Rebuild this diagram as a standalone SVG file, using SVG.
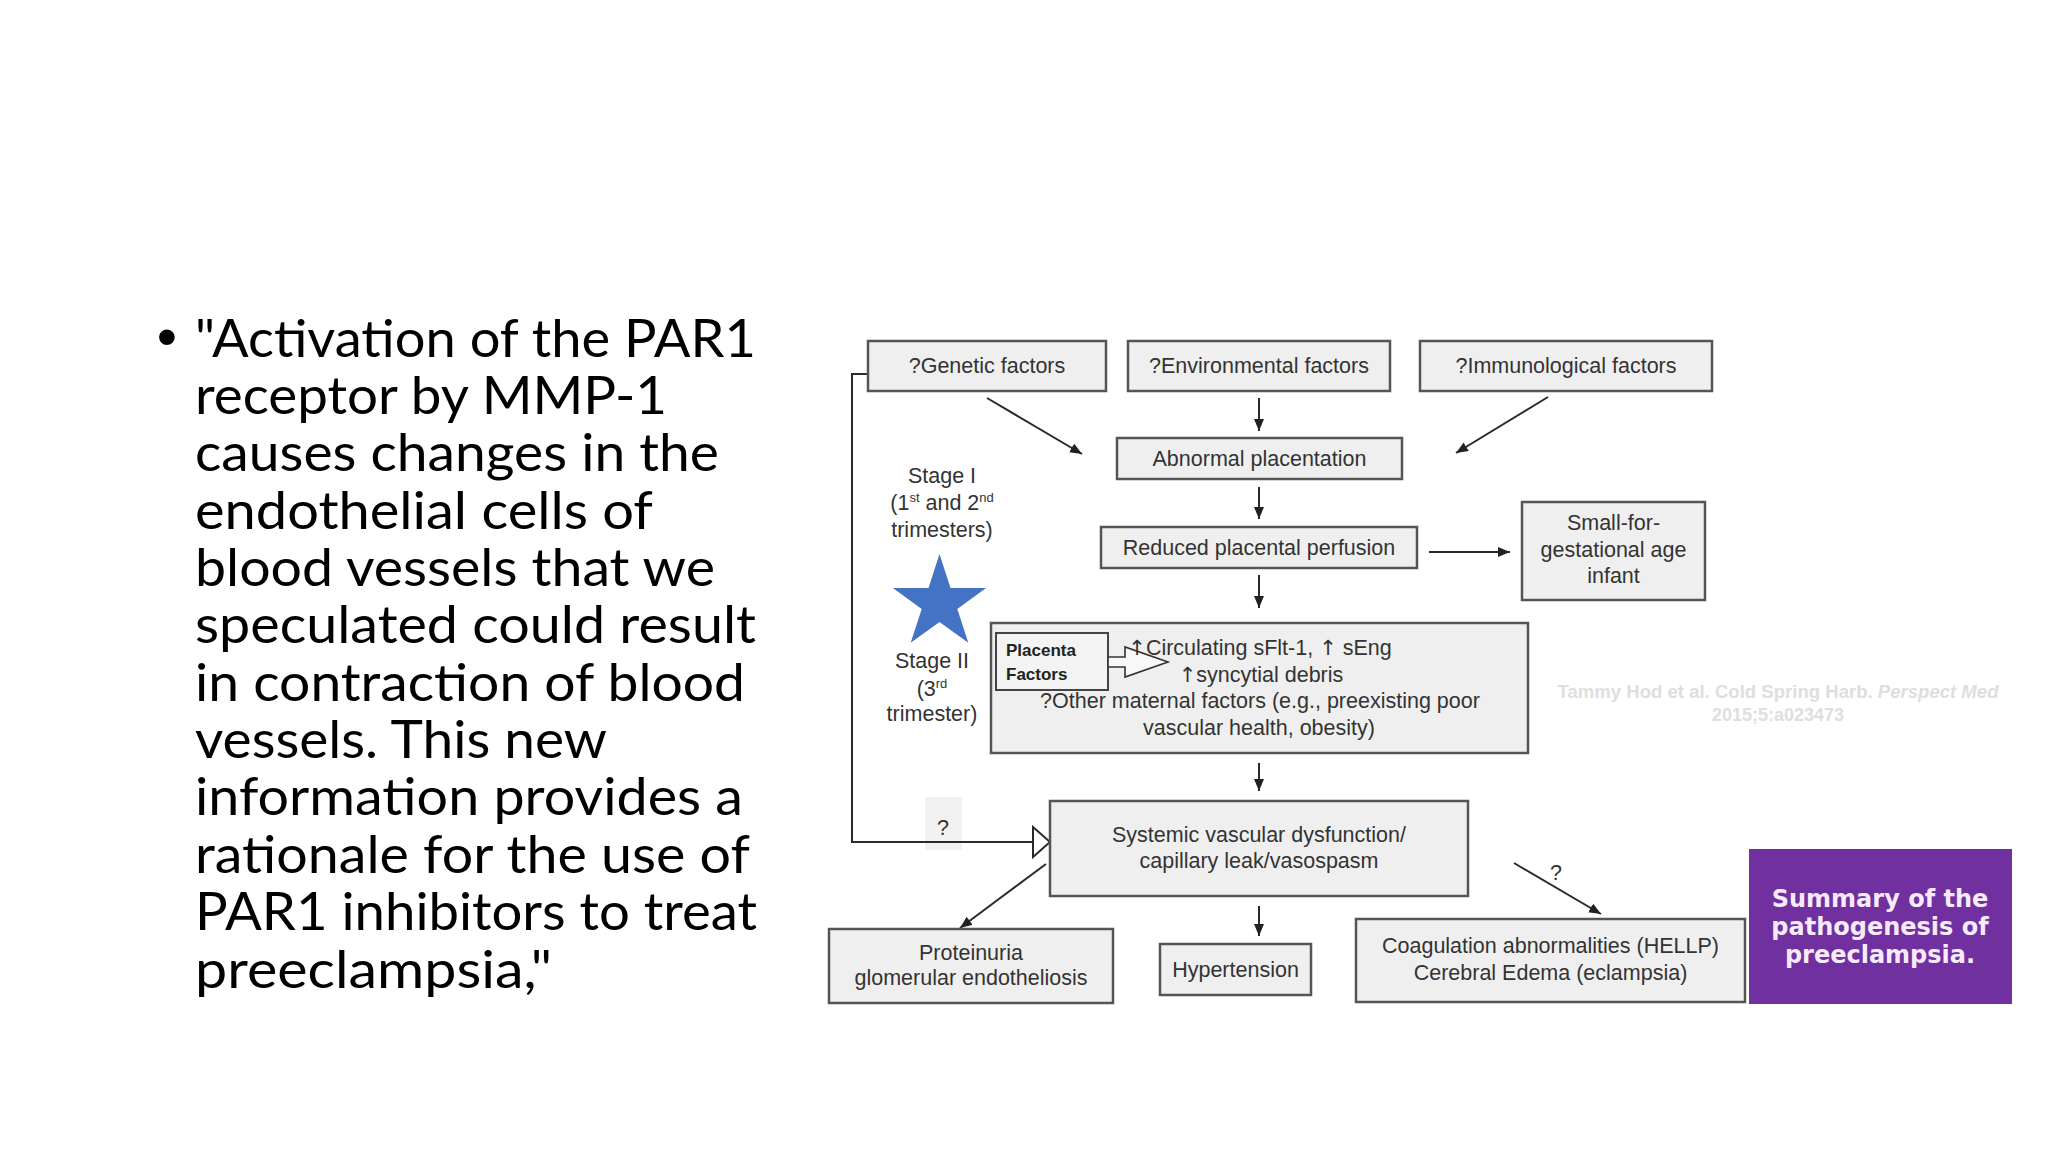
<svg xmlns="http://www.w3.org/2000/svg" width="2048" height="1152" viewBox="0 0 2048 1152">
<defs>
<style>
.body{font-family:Lato,"Open Sans",sans-serif;font-size:52px;fill:#000}
.box{fill:#efefef;stroke:#555;stroke-width:2.5}
.t{font-family:"Liberation Sans",Arial,sans-serif;font-size:21.5px;fill:#333;text-anchor:middle}
.up{font-family:"DejaVu Sans",sans-serif;font-size:21px;font-weight:normal}
.c{stroke:#2a2a2a;stroke-width:2;fill:none}
.pf{font-family:"Liberation Sans",Arial,sans-serif;font-size:17px;font-weight:bold;fill:#222}
.wm{font-family:"Liberation Sans",Arial,sans-serif;font-size:18px;font-weight:bold;fill:#dedede;text-anchor:middle}
.sum{font-family:"DejaVu Sans",Verdana,sans-serif;font-size:24px;font-weight:bold;fill:#f6eafb;text-anchor:middle}
</style>
<marker id="ah" markerUnits="userSpaceOnUse" markerWidth="13" markerHeight="11" refX="12" refY="5" orient="auto">
<path d="M0,0 L12,5 L0,10 z" fill="#222"/>
</marker>
</defs>
<rect width="2048" height="1152" fill="#ffffff"/>

<g id="bullet-text">
<text x="167" y="356" class="body" style="font-family:'Liberation Sans',Arial,sans-serif;font-size:58px" text-anchor="middle">•</text>
<text x="195" y="357" class="body" textLength="561" lengthAdjust="spacingAndGlyphs">"Activation of the PAR1</text>
<text x="195" y="414" class="body" textLength="472" lengthAdjust="spacingAndGlyphs">receptor by MMP-1</text>
<text x="195" y="471" class="body" textLength="524" lengthAdjust="spacingAndGlyphs">causes changes in the</text>
<text x="195" y="529" class="body" textLength="458" lengthAdjust="spacingAndGlyphs">endothelial cells of</text>
<text x="195" y="586" class="body" textLength="520" lengthAdjust="spacingAndGlyphs">blood vessels that we</text>
<text x="195" y="643" class="body" textLength="561" lengthAdjust="spacingAndGlyphs">speculated could result</text>
<text x="195" y="701" class="body" textLength="550" lengthAdjust="spacingAndGlyphs">in contraction of blood</text>
<text x="195" y="758" class="body" textLength="412" lengthAdjust="spacingAndGlyphs">vessels. This new</text>
<text x="195" y="815" class="body" textLength="548" lengthAdjust="spacingAndGlyphs">information provides a</text>
<text x="195" y="873" class="body" textLength="555" lengthAdjust="spacingAndGlyphs">rationale for the use of</text>
<text x="195" y="930" class="body" textLength="562" lengthAdjust="spacingAndGlyphs">PAR1 inhibitors to treat</text>
<text x="195" y="988" class="body" textLength="357" lengthAdjust="spacingAndGlyphs">preeclampsia,"</text>
</g>

<g id="watermark">
<text x="1778" y="698" class="wm" textLength="441" lengthAdjust="spacingAndGlyphs">Tammy Hod et al. Cold Spring Harb. <tspan font-style="italic">Perspect Med</tspan></text>
<text x="1778" y="721" class="wm">2015;5:a023473</text>
</g>

<g id="connectors">
<line class="c" x1="987" y1="398" x2="1082" y2="454" marker-end="url(#ah)"/>
<line class="c" x1="1259" y1="398" x2="1259" y2="431" marker-end="url(#ah)"/>
<line class="c" x1="1548" y1="397" x2="1456" y2="453" marker-end="url(#ah)"/>
<line class="c" x1="1259" y1="487" x2="1259" y2="519" marker-end="url(#ah)"/>
<line class="c" x1="1259" y1="575" x2="1259" y2="608" marker-end="url(#ah)"/>
<line class="c" x1="1429" y1="552" x2="1510" y2="552" marker-end="url(#ah)"/>
<line class="c" x1="1259" y1="763" x2="1259" y2="791" marker-end="url(#ah)"/>
<line class="c" x1="1046" y1="864" x2="960" y2="928" marker-end="url(#ah)"/>
<line class="c" x1="1259" y1="906" x2="1259" y2="936" marker-end="url(#ah)"/>
<line class="c" x1="1514" y1="863" x2="1601" y2="914" marker-end="url(#ah)"/>
<text x="1556" y="880" class="t">?</text>
<rect x="925" y="797" width="37" height="53" fill="#f1f1f1"/>
<text x="943" y="835" class="t">?</text>
<path class="c" d="M868,374 H852 V842 H1033"/>
<path d="M1033,827 L1050,842 L1033,857 Z" fill="#fff" stroke="#2a2a2a" stroke-width="2"/>
</g>

<g id="genetic">
<rect class="box" x="868" y="341" width="238" height="50"/>
<text x="987" y="373" class="t">?Genetic factors</text>
</g>
<g id="environmental">
<rect class="box" x="1128" y="341" width="262" height="50"/>
<text x="1259" y="373" class="t">?Environmental factors</text>
</g>
<g id="immunological">
<rect class="box" x="1420" y="341" width="292" height="50"/>
<text x="1566" y="373" class="t">?Immunological factors</text>
</g>
<g id="abnormal-placentation">
<rect class="box" x="1117" y="438" width="285" height="41"/>
<text x="1259.5" y="466" class="t">Abnormal placentation</text>
</g>
<g id="reduced-perfusion">
<rect class="box" x="1101" y="527" width="316" height="41"/>
<text x="1259" y="555" class="t">Reduced placental perfusion</text>
</g>
<g id="sga">
<rect class="box" x="1522" y="502" width="183" height="98"/>
<text x="1613.5" y="530" class="t">Small-for-</text>
<text x="1613.5" y="557" class="t">gestational age</text>
<text x="1613.5" y="583" class="t">infant</text>
</g>

<g id="stage-labels">
<text x="942" y="483" class="t">Stage I</text>
<text x="942" y="510" class="t">(1<tspan dy="-8" font-size="13">st</tspan><tspan dy="8"> and 2</tspan><tspan dy="-8" font-size="13">nd</tspan></text>
<text x="942" y="537" class="t">trimesters)</text>
<polygon fill="#4472c4" points="939.5,554 950.5,588 986.1,588 957.3,608.9 968.3,642.8 939.5,621.9 910.7,642.8 921.7,608.9 892.9,588 928.5,588"/>
<text x="932" y="668" class="t">Stage II</text>
<text x="932" y="696" class="t">(3<tspan dy="-8" font-size="13">rd</tspan></text>
<text x="932" y="721" class="t">trimester)</text>
</g>

<g id="circulating-factors">
<rect class="box" x="991" y="623" width="537" height="130"/>
<rect x="996" y="633" width="112" height="57" fill="#f3f3f3" stroke="#444" stroke-width="2"/>
<text x="1006" y="656" class="pf">Placenta</text>
<text x="1006" y="680" class="pf">Factors</text>
<polygon points="1108,657 1125,657 1125,647 1168,662 1125,677 1125,667 1108,667" fill="#f8f8f8" stroke="#333" stroke-width="1.6"/>
<text x="1260" y="655" class="t"><tspan class="up">↑</tspan>Circulating sFlt-1, <tspan class="up">↑</tspan> sEng</text>
<text x="1261" y="682" class="t"><tspan class="up">↑</tspan>syncytial debris</text>
<text x="1260" y="708" class="t">?Other maternal factors (e.g., preexisting poor</text>
<text x="1259" y="735" class="t">vascular health, obesity)</text>
</g>

<g id="systemic">
<rect class="box" x="1050" y="801" width="418" height="95"/>
<text x="1259" y="842" class="t">Systemic vascular dysfunction/</text>
<text x="1259" y="868" class="t">capillary leak/vasospasm</text>
</g>
<g id="proteinuria">
<rect class="box" x="829" y="929" width="284" height="74"/>
<text x="971" y="960" class="t">Proteinuria</text>
<text x="971" y="985" class="t">glomerular endotheliosis</text>
</g>
<g id="hypertension">
<rect class="box" x="1160" y="944" width="151" height="51"/>
<text x="1235.5" y="977" class="t">Hypertension</text>
</g>
<g id="coagulation">
<rect class="box" x="1356" y="919" width="389" height="83"/>
<text x="1550.5" y="953" class="t">Coagulation abnormalities (HELLP)</text>
<text x="1550.5" y="980" class="t">Cerebral Edema (eclampsia)</text>
</g>

<g id="summary">
<rect x="1749" y="849" width="263" height="155" fill="#7030a0"/>
<text x="1880" y="907" class="sum">Summary of the</text>
<text x="1880" y="935" class="sum">pathogenesis of</text>
<text x="1880" y="963" class="sum">preeclampsia.</text>
</g>
</svg>
